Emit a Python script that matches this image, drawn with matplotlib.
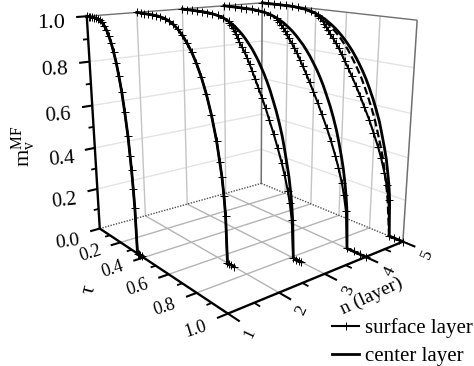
import matplotlib
matplotlib.use("Agg")
import matplotlib.pyplot as plt
from mpl_toolkits.mplot3d import proj3d

plt.rcParams['font.family'] = ['Liberation Serif', 'DejaVu Serif']
plt.rcParams['mathtext.fontset'] = 'custom'
plt.rcParams['mathtext.rm'] = 'Liberation Serif'
plt.rcParams['mathtext.it'] = 'Liberation Serif'

# magnetisation levels: few marks for n=1,2, more for n=3,4,5
mag_short = [1, 1, 1, 1, 1, .9995, .997, .993, .986, .974, .958, .935, .907, .872, .829, .775, .710,
             .627, .525, .44, .379, .296, .21, 0, 0, 0, 0]
mag_long = [1, 1, 1, 1, 1, .9995, .997, .993, .986, .974, .966, .958, .947, .935, .922, .907, .89, .872,
            .851, .829, .803, .775, .744, .71, .67, .627, .579, .525, .47, .41, .36, .296, .243, .172, 0,
            0, 0, 0]

tau_n1 = [0, .0175, .035, .052, .07, .087, .105, .122, .14, .157, .175, .192, .21, .227, .245, .262,
          .28, .297, .315, .325, .332, .339, .345, .35, .361, .371, .385]
tau_n2 = [0, .034, .067, .101, .134, .168, .201, .235, .268, .302, .335, .369, .402, .436, .469, .503,
          .536, .57, .603, .623, .637, .65, .66, .67, .683, .697, .715]
tau_n3_c = [0, .041, .081, .122, .162, .203, .243, .284, .324, .365, .385, .405, .425, .446, .466, .486,
            .506, .527, .547, .567, .587, .608, .628, .648, .668, .689, .709, .729, .745, .761, .774,
            .786, .794, .802, .81, .83, .845, .86]
tau_n3_s = [0, .041, .081, .122, .162, .203, .243, .284, .324, .365, .368, .381, .393, .406, .417, .428,
            .44, .458, .476, .493, .511, .529, .549, .57, .595, .62, .645, .674, .7, .727, .747,
            .768, .782, .796, .81, .83, .845, .86]
tau_n4_c = [0, .045, .089, .134, .178, .223, .267, .312, .356, .401, .423, .445, .467, .49, .512, .534,
            .556, .579, .601, .623, .645, .668, .69, .712, .734, .757, .779, .801, .819, .837, .85,
            .863, .872, .881, .89, .93, .965, 1.0]
tau_n4_s = [0, .045, .089, .134, .178, .223, .267, .312, .356, .401, .404, .418, .432, .446, .458, .47,
            .484, .504, .523, .542, .561, .581, .604, .627, .653, .681, .709, .741, .77, .799, .82,
            .844, .859, .875, .89, .93, .965, 1.0]
tau_n5_c = [0, .046, .092, .138, .184, .23, .276, .322, .368, .414, .437, .46, .483, .506, .529, .552,
            .575, .598, .621, .644, .667, .69, .713, .736, .759, .782, .805, .828, .846, .865, .879,
            .892, .902, .911, .92, .95, .975, 1.0]
tau_n5_m = [0, .044, .088, .132, .177, .221, .265, .309, .353, .397, .42, .442, .464, .486, .508, .53,
            .552, .574, .596, .618, .64, .662, .685, .708, .731, .754, .778, .802, .822, .843, .859,
            .874, .886, .899, .92]
tau_n5_s = [0, .046, .092, .138, .184, .23, .276, .322, .368, .414, .417, .432, .447, .46, .473, .486,
            .5, .52, .54, .56, .58, .6, .624, .648, .676, .704, .733, .766, .795, .826, .848,
            .872, .888, .905, .92, .95, .975, 1.0]

layers = [1, 2, 3, 4, 5]
center = [tau_n1, tau_n2, tau_n3_c, tau_n4_c, tau_n5_c]
surface = [tau_n1, tau_n2, tau_n3_s, tau_n4_s, tau_n5_s]
mags = [mag_short, mag_short, mag_long, mag_long, mag_long]

z_major = [0.0, 0.2, 0.4, 0.6, 0.8, 1.0]
z_minor = [0.1, 0.3, 0.5, 0.7, 0.9]
tau_major = [0.2, 0.4, 0.6, 0.8, 1.0]
tau_minor = [0.1, 0.3, 0.5, 0.7, 0.9]
n_major = [1, 2, 3, 4, 5]
n_minor = [1.5, 2.5, 3.5, 4.5]

fig = plt.figure(figsize=(4.74, 3.66), dpi=100)
ax = fig.add_axes([.114, .111, .797, 1.033], projection='3d', computed_zorder=False)
ax.set_proj_type('persp', focal_length=.344)
ax.view_init(elev=15.6, azim=-129)
ax.set_box_aspect((1, 1, 1))
ax.set_xlim(1, 5, view_margin=0)
ax.set_ylim(1, 0, view_margin=0)
ax.set_zlim(0, 1, view_margin=0)
ax.set_axis_off()


def seg(x, y, z, **kw):
    ax.plot(x, y, z, solid_capstyle='butt', **kw)


def label(x, y, z, s, **kw):
    # 3D text ignores rotation, so place it as 2D text at the projected point
    px, py, _ = proj3d.proj_transform(x, y, z, ax.get_proj())
    ax.text2D(float(px), float(py), s, transform=ax.transData, ha='center', va='center', **kw)


# walls and floor
wall = '#e4e4e4'
for z in z_major[1:-1]:
    seg([1, 5], [0, 0], [z, z], color=wall, lw=1, zorder=1)
    seg([5, 5], [0, 1], [z, z], color=wall, lw=1, zorder=1)
for n in n_major[1:-1]:
    seg([n, n], [0, 0], [0, 1], color='#c4c4c4', lw=1, zorder=1)
    seg([n, n], [0, 1], [0, 0], color='#b4b4b4', lw=1, zorder=1)
for t in tau_major[:-1]:
    seg([5, 5], [t, t], [0, 1], color='#c4c4c4', lw=1, zorder=1)
    seg([1, 5], [t, t], [0, 0], color='#b4b4b4', lw=1, zorder=1)

edge = '#707070'
seg([1, 5], [0, 0], [1, 1], color=edge, lw=1, zorder=2)
seg([5, 5], [0, 1], [1, 1], color=edge, lw=1, zorder=2)
seg([5, 5], [0, 0], [0, 1], color=edge, lw=1.1, zorder=2)
seg([5, 5], [1, 1], [0, 1], color=edge, lw=1.1, zorder=2)
ax.plot([1, 5], [0, 0], [0, 0], color='#505050', lw=1, ls=(0, (1, 1)), zorder=2)
ax.plot([5, 5], [0, 1], [0, 0], color='#505050', lw=1, ls=(0, (1, 1)), zorder=2)

# axes and ticks
seg([1, 1], [0, 0], [0, 1], color='k', lw=1.7, zorder=3)
seg([1, 1], [0, 1], [0, 0], color='k', lw=1.7, zorder=3)
seg([1, 5], [1, 1], [0, 0], color='k', lw=1.7, zorder=3)
for z in z_major:
    seg([1, .8], [0, 0], [z, z], color='k', lw=1.5, zorder=3)
for z in z_minor:
    seg([1, .9], [0, 0], [z, z], color='k', lw=1.3, zorder=3)
for t in tau_major:
    seg([1, .8], [t, t], [0, 0], color='k', lw=1.5, zorder=3)
for t in tau_minor:
    seg([1, .9], [t, t], [0, 0], color='k', lw=1.3, zorder=3)
for n in n_major:
    seg([n, n], [1, 1.07], [0, 0], color='k', lw=1.5, zorder=3)
for n in n_minor:
    seg([n, n], [1, 1.035], [0, 0], color='k', lw=1.3, zorder=3)

# curves
line_c = None
line_s = None
for i in range(0, len(layers)):
    xs = [layers[i]] * len(mags[i])
    line_c, = ax.plot(xs, center[i], mags[i], color='k', lw=2, zorder=5)
    line_s, = ax.plot(xs, surface[i], mags[i], color='k', lw=1.5, marker='+', ms=6, mew=.7, zorder=6)
ax.plot([5] * 35, tau_n5_m, mag_long[:35], color='k', lw=1.6, ls=(0, (3.5, 1.5)), zorder=5)

# tick labels
z_sizes = [14, 14.5, 15, 15, 15.5, 16]
for i in range(0, len(z_major)):
    label(.34, 0, z_major[i] - .02, f"{z_major[i]:.1f}", fontsize=z_sizes[i], rotation=8 - 8 * z_major[i])
for t in tau_major:
    label(.38, t + .015, 0, f"{t:.1f}", fontsize=13, rotation=18)
label(-.25, .51, 0, "τ", fontsize=15, rotation=75)
for n in n_major:
    label(n - .1, 1.155, 0, f"{n}", fontsize=12.5, rotation=65)
label(3.03, 1.245, 0, "n (layer)", fontsize=14, rotation=25)

fig.text(24 / 474, 1 - 146 / 366, r"$\mathrm{m_v^{MF}}$", fontsize=16, rotation=90, ha='center', va='center')

leg = fig.legend([line_s, line_c], ["surface layer", "center layer"], loc='lower left',
                 bbox_to_anchor=(332 / 474, 0), frameon=False, fontsize=15, borderaxespad=0,
                 handlelength=1.3, handletextpad=.3, labelspacing=.4, borderpad=0)

plt.savefig('out.png', dpi=100)
